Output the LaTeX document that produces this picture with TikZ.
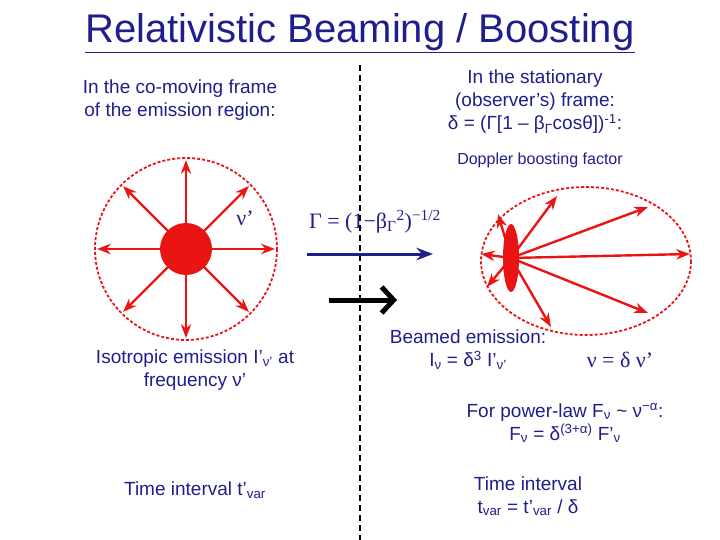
\documentclass[tikz,border=0pt]{standalone}
\usepackage{fontspec}
\setmainfont{Liberation Sans}
\newfontfamily\serifgr{Liberation Serif}
\usetikzlibrary{arrows.meta, positioning}
\definecolor{navy}{RGB}{30,30,140}
\definecolor{beamred}{RGB}{235,20,20}
\begin{document}
\begin{tikzpicture}[x=1pt, y=-1pt, >=Stealth,
    txt/.style={text=navy, font=\fontsize{19}{23}\selectfont, align=center, inner sep=0pt},
    smalltxt/.style={text=navy, font=\fontsize{16}{19}\selectfont, inner sep=0pt},
    grk/.style={text=navy, font=\serifgr\fontsize{22}{26}\selectfont, inner sep=0pt},
    ray/.style={->, draw=beamred, line width=2.4pt},
    rim/.style={draw=beamred, line width=1.8pt, densely dashed}]
    \useasboundingbox (0,0) rectangle (720,540);

    \node (title) [text=navy, font=\fontsize{40}{44}\selectfont, inner sep=1pt] at (360,33) {\underline{Relativistic Beaming / Boosting}};
    \draw[black, line width=2.5pt, dash pattern=on 6pt off 4pt] (360,65) -- (360,540);

    \node (comov) [txt] at (180,100) {In the co-moving frame\\of the emission region:};
    \node (stat) [txt] at (535,102) {In the stationary\\(observer’s) frame:\\δ = (Γ[1 – β\textsubscript{Γ}cosθ])\textsuperscript{-1}:};
    \node (dopp) [smalltxt] at (540,160) {Doppler boosting factor};

    %% isotropic source
    \coordinate (src) at (186,249);
    \draw[rim] (src) circle (91);
    \foreach \a in {0,45,...,315}
        \draw[ray] (src) -- ++(\a:89);
    \fill[beamred] (src) circle (26);
    \node (nup) [grk] at (245,218) {ν’};

    %% boost
    \node (gam) [grk] at (375,222) {Γ = (1−β\textsubscript{Γ}\textsuperscript{2})\textsuperscript{−1/2}};
    \coordinate (ga) at (307,254);
    \coordinate (gb) at (433,254);
    \draw[->, draw=navy, line width=3pt] (ga) -- (gb);
    \coordinate (ba) at (329,300);
    \coordinate (bb) at (397,300);
    \draw[-{Straight Barb[length=12pt, width=26pt, line width=5pt]}, line width=5pt] (ba) -- (bb);

    %% beamed source
    \coordinate (blob) at (511,258);
    \draw[rim] (586,261) ellipse (105 and 74);
    \foreach \p in {(557,196),(648,207),(690,254),(648,313),(551,327),(498,214),(481,254),(487,287)}
        \draw[ray] (blob) -- \p;
    \fill[beamred] (blob) ellipse (8 and 34);

    \node (iso) [txt] at (195,370) {Isotropic emission I’\textsubscript{ν’} at\\frequency ν’};
    \node (beam) [txt] at (468,350) {Beamed emission:\\I\textsubscript{ν} = δ\textsuperscript{3} I’\textsubscript{ν’}};
    \node (nurel) [grk] at (620,360) {ν = δ ν’};
    \node (plaw) [txt] at (565,423) {For power-law F\textsubscript{ν} \textasciitilde{} ν\textsuperscript{−α}:\\F\textsubscript{ν} = δ\textsuperscript{(3+α)} F’\textsubscript{ν}};
    \node (tco) [txt] at (195,490) {Time interval t’\textsubscript{var}};
    \node (tobs) [txt] at (528,496) {Time interval\\t\textsubscript{var} = t’\textsubscript{var} / δ};
\end{tikzpicture}
\end{document}
